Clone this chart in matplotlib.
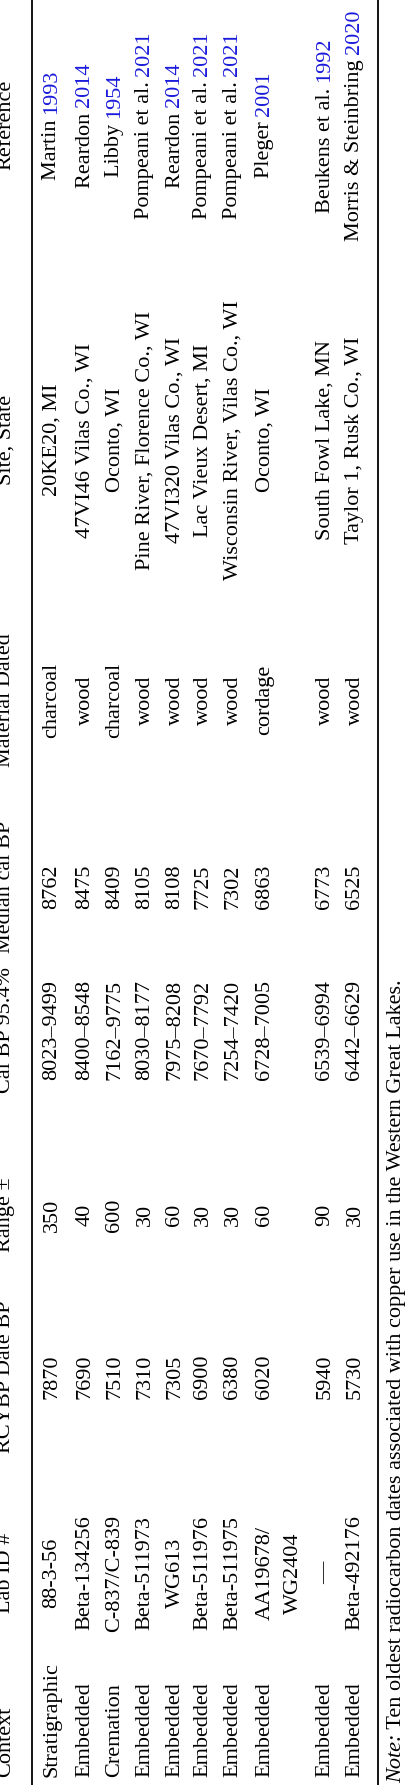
import matplotlib
matplotlib.use('Agg')
import matplotlib.pyplot as plt

# Dados da tabela (datas radiocarbono)
contexto = ['Stratigraphic', 'Embedded', 'Cremation', 'Embedded', 'Embedded', 'Embedded',
            'Embedded', 'Embedded', 'Embedded', 'Embedded']
lab_id = ['88-3-56', 'Beta-134256', 'C-837/C-839', 'Beta-511973', 'WG613', 'Beta-511976',
          'Beta-511975', 'AA19678/\nWG2404', '\u2014', 'Beta-492176']
rcybp = ['7870', '7690', '7510', '7310', '7305', '6900', '6380', '6020', '5940', '5730']
faixa = ['350', '40', '600', '30', '60', '30', '30', '60', '90', '30']
cal_bp = ['8023\u20139499', '8400\u20138548', '7162\u20139775', '8030\u20138177', '7975\u20138208',
          '7670\u20137792', '7254\u20137420', '6728\u20137005', '6539\u20136994', '6442\u20136629']
mediana = ['8762', '8475', '8409', '8105', '8108', '7725', '7302', '6863', '6773', '6525']
material = ['charcoal', 'wood', 'charcoal', 'wood', 'wood', 'wood', 'wood', 'cordage', 'wood', 'wood']
sitio = ['20KE20, MI', '47VI46 Vilas Co., WI', 'Oconto, WI', 'Pine River, Florence Co., WI',
         '47VI320 Vilas Co., WI', 'Lac Vieux Desert, MI', 'Wisconsin River, Vilas Co., WI',
         'Oconto, WI', 'South Fowl Lake, MN', 'Taylor 1, Rusk Co., WI']
ref_autor = ['Martin', 'Reardon', 'Libby', 'Pompeani et al.', 'Reardon', 'Pompeani et al.',
             'Pompeani et al.', 'Pleger', 'Beukens et al.', 'Morris & Steinbring']
ref_ano = ['1993', '2014', '1954', '2021', '2014', '2021', '2021', '2001', '1992', '2020']
cabecalho = ['Context', 'Lab ID #', 'RCYBP Date BP', 'Range \u00b1', 'Cal BP 95.4%',
             'Median cal BP', 'Material Dated', 'Site, State', 'Reference']

# posicoes (pixels da figura)
W, H = 413, 1785
linha_x = [52, 85, 115, 145, 175, 203, 233, 265, 325, 355]
col_y = [1777, 1573, 1377, 1215, 1030, 887, 700, 440, 125]
fs = 16

plt.rcParams['font.family'] = ['Liberation Serif', 'DejaVu Serif']
fig = plt.figure(figsize=(W / 100, H / 100), dpi=100)
ax = fig.add_axes([0, 0, 1, 1])
ax.set_xlim(0, W)
ax.set_ylim(H, 0)
ax.axis('off')

ax.axvline(32, color='black', lw=1.3)
ax.axvline(378, color='black', lw=1.3)

# cabecalho
for j, nome in enumerate(cabecalho):
    va = 'bottom' if j == 0 else 'center'
    ax.text(6, col_y[j], nome, rotation=90, ha='center', va=va, fontsize=fs)

colunas = [lab_id, rcybp, faixa, cal_bp, mediana, material, sitio]
fig.canvas.draw()
rend = fig.canvas.get_renderer()
for i, x in enumerate(linha_x):
    ax.text(x, col_y[0], contexto[i], rotation=90, ha='center', va='bottom', fontsize=fs)
    for j, col in enumerate(colunas):
        val = col[i]
        if '\n' in val:
            a, b = val.split('\n')
            ax.text(x, col_y[j + 1], a, rotation=90, ha='center', va='center', fontsize=fs)
            ax.text(x + 28, col_y[j + 1], b, rotation=90, ha='center', va='center', fontsize=fs)
        else:
            ax.text(x, col_y[j + 1], val, rotation=90, ha='center', va='center', fontsize=fs)
    # referencia com ano em azul (mede o texto inteiro e depois divide)
    t = ax.text(x, col_y[8], ref_autor[i] + ' ' + ref_ano[i], rotation=90,
                ha='center', va='center', fontsize=fs)
    bb = t.get_window_extent(rend).transformed(ax.transData.inverted())
    t.remove()
    y_base = max(bb.y0, bb.y1)
    y_topo = min(bb.y0, bb.y1)
    ax.text(x, y_base, ref_autor[i] + ' ', rotation=90, ha='center', va='bottom', fontsize=fs)
    ax.text(x, y_topo, ref_ano[i], rotation=90, ha='center', va='top', fontsize=fs, color='#1a1adb')

# nota de rodape
n1 = ax.text(397, 1783, 'Note:', rotation=90, ha='center', va='bottom', fontsize=fs, style='italic')
bb = n1.get_window_extent(rend).transformed(ax.transData.inverted())
ax.text(397, min(bb.y0, bb.y1),
        ' Ten oldest radiocarbon dates associated with copper use in the Western Great Lakes.',
        rotation=90, ha='center', va='bottom', fontsize=fs)

fig.savefig('out.png', dpi=100)
